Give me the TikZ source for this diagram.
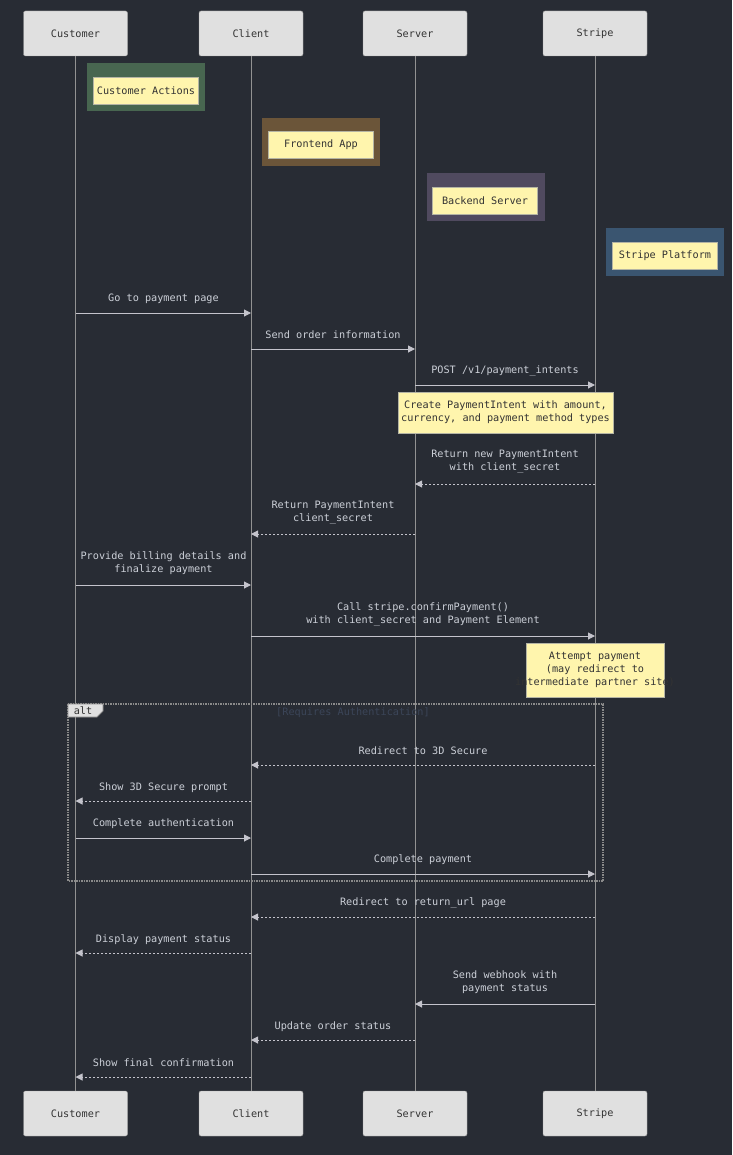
\documentclass[tikz,border=0pt]{standalone}
\usepackage{fontspec}
\setmainfont{DejaVu Sans Mono}
\usepackage{xcolor}
\usetikzlibrary{arrows.meta, positioning}
\definecolor{bg}{HTML}{282C34}
\definecolor{actorfill}{HTML}{E0E0E0}
\definecolor{actorline}{HTML}{9A9A9A}
\definecolor{lifeline}{HTML}{929292}
\definecolor{msgtext}{HTML}{CCD0D8}
\definecolor{msgline}{HTML}{C4C4CC}
\definecolor{notefill}{HTML}{FFF5AD}
\definecolor{noteline}{HTML}{B4B4A4}
\definecolor{darktext}{HTML}{333333}
\definecolor{grpgreen}{HTML}{486650}
\definecolor{grpbrown}{HTML}{6B5539}
\definecolor{grppurple}{HTML}{504A5F}
\definecolor{grpblue}{HTML}{3A5570}
\definecolor{framecol}{HTML}{8A8A8A}
\definecolor{condtext}{HTML}{3B4558}

\begin{document}
\begin{tikzpicture}[x=1pt, y=-1pt, font=\fontsize{10.2}{13}\selectfont,
  actor/.style={rectangle, rounded corners=2pt, draw=actorline, fill=actorfill, text=darktext, minimum width=104pt, minimum height=45pt},
  life/.style={draw=lifeline, line width=1pt},
  msg/.style={draw=msgline, line width=1pt, -{Triangle[length=7pt, width=7pt]}},
  reply/.style={msg, dash pattern=on 2pt off 2pt},
  lbl/.style={text=msgtext, align=center, inner sep=0pt, yshift=-1.5pt},
  note/.style={rectangle, draw=noteline, fill=notefill, text=darktext, align=center, inner sep=0pt},
  grp/.style={rectangle, minimum width=118pt, minimum height=48pt, inner sep=0pt}]
  \useasboundingbox[fill=bg] (0,0) rectangle (732,1155);

  % actors
  \node[actor] (cuT) at (75.5,33.5) {Customer};
  \node[actor] (clT) at (251,33.5) {Client};
  \node[actor] (svT) at (415,33.5) {Server};
  \node[actor] (stT) at (595,33.5) {Stripe};
  \node[actor] (cuB) at (75.5,1113.5) {Customer};
  \node[actor] (clB) at (251,1113.5) {Client};
  \node[actor] (svB) at (415,1113.5) {Server};
  \node[actor] (stB) at (595,1113.5) {Stripe};
  \draw[life] (cuT) -- (cuB);
  \draw[life] (clT) -- (clB);
  \draw[life] (svT) -- (svB);
  \draw[life] (stT) -- (stB);

  % boxes
  \node[grp, fill=grpgreen] (gCust) at (145.5,87) {};
  \node[note, minimum width=105pt, minimum height=27pt] (nCust) at (146,90.5) {Customer Actions};
  \node[grp, fill=grpbrown] (gFront) at (321,142) {};
  \node[note, minimum width=105pt, minimum height=27pt] (nFront) at (321,145) {Frontend App};
  \node[grp, fill=grppurple] (gBack) at (485.5,197.5) {};
  \node[note, minimum width=105pt, minimum height=27pt] (nBack) at (485,201) {Backend Server};
  \node[grp, fill=grpblue] (gStripe) at (665,252.5) {};
  \node[note, minimum width=105pt, minimum height=27pt] (nStripe) at (665,256) {Stripe Platform};

  % messages
  \node[lbl] (m1) at (163.5,297) {Go to payment page};
  \draw[msg] (cuT |- 0,313) -- (clT |- 0,313);
  \node[lbl] (m2) at (333,333) {Send order information};
  \draw[msg] (clT |- 0,349) -- (svT |- 0,349);
  \node[lbl] (m3) at (505,369) {POST /v1/payment\_intents};
  \draw[msg] (svT |- 0,385) -- (stT |- 0,385);
  \node[note, minimum width=215pt, minimum height=41pt] (nCreate) at (505.5,412.5) {Create PaymentIntent with amount,\\currency, and payment method types};
  \node[lbl] (m4) at (505,459.5) {Return new PaymentIntent\\with client\_secret};
  \draw[reply] (stT |- 0,484) -- (svT |- 0,484);
  \node[lbl] (m5) at (333,510.5) {Return PaymentIntent\\client\_secret};
  \draw[reply] (svT |- 0,534) -- (clT |- 0,534);
  \node[lbl] (m6) at (163.5,561.5) {Provide billing details and\\finalize payment};
  \draw[msg] (cuT |- 0,585) -- (clT |- 0,585);
  \node[lbl] (m7) at (423,612.5) {Call stripe.confirmPayment()\\with client\_secret and Payment Element};
  \draw[msg] (clT |- 0,636) -- (stT |- 0,636);
  \node[note, minimum width=138pt, minimum height=54pt] (nAttempt) at (595,670) {};
  \node[text=darktext, align=center, inner sep=0pt] (tAttempt) at (nAttempt) {Attempt payment\\(may redirect to\\intermediate partner site)};

  % alt frame
  \draw[framecol, line width=1.2pt, dash pattern=on 1.5pt off 1pt] (68,704) rectangle (603,881);
  \draw[framecol, fill=actorfill, line width=0.8pt] (68,704) -- (103,704) -- (103,711) -- (97,717) -- (68,717) -- cycle;
  \node[text=darktext, inner sep=0pt] (alt) at (83,711) {alt};
  \node[text=condtext, inner sep=0pt] (cond) at (353,713) {[Requires Authentication]};
  \node[lbl] (m8) at (423,749) {Redirect to 3D Secure};
  \draw[reply] (stT |- 0,765) -- (clT |- 0,765);
  \node[lbl] (m9) at (163.5,786) {Show 3D Secure prompt};
  \draw[reply] (clT |- 0,801) -- (cuT |- 0,801);
  \node[lbl] (m10) at (163.5,822) {Complete authentication};
  \draw[msg] (cuT |- 0,838) -- (clT |- 0,838);
  \node[lbl] (m11) at (423,858) {Complete payment};
  \draw[msg] (clT |- 0,874) -- (stT |- 0,874);

  % after the alt
  \node[lbl] (m12) at (423,901) {Redirect to return\_url page};
  \draw[reply] (stT |- 0,917) -- (clT |- 0,917);
  \node[lbl] (m13) at (163.5,938) {Display payment status};
  \draw[reply] (clT |- 0,953) -- (cuT |- 0,953);
  \node[lbl] (m14) at (505,980.5) {Send webhook with\\payment status};
  \draw[msg] (stT |- 0,1004) -- (svT |- 0,1004);
  \node[lbl] (m15) at (333,1025) {Update order status};
  \draw[reply] (svT |- 0,1040) -- (clT |- 0,1040);
  \node[lbl] (m16) at (163.5,1061) {Show final confirmation};
  \draw[reply] (clT |- 0,1077) -- (cuT |- 0,1077);
\end{tikzpicture}
\end{document}
